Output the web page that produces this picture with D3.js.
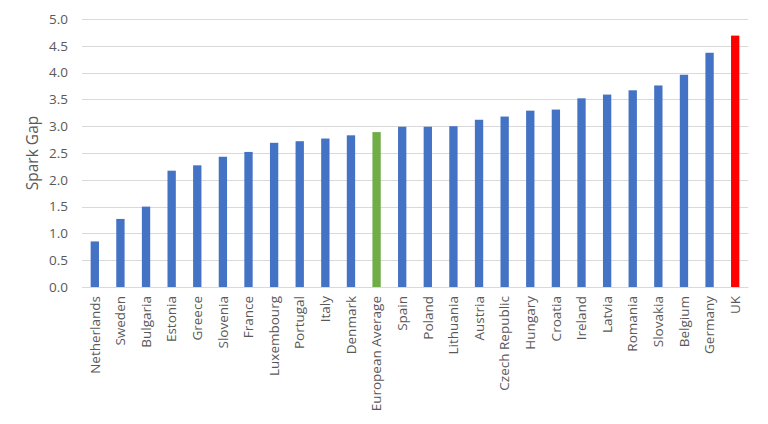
<!DOCTYPE html>
<html>
<head>
<meta charset="utf-8">
<script src="https://cdn.jsdelivr.net/npm/d3@7"></script>
<style>
  body { margin: 0; background: #fff; }
  svg text { font-family: "Open Sans", "Liberation Sans", sans-serif; fill: #595959; }
</style>
</head>
<body>
<svg></svg>
<script>
// Data
const countries = ["Netherlands", "Sweden", "Bulgaria", "Estonia", "Greece", "Slovenia", "France",
  "Luxembourg", "Portugal", "Italy", "Denmark", "European Average", "Spain", "Poland", "Lithuania",
  "Austria", "Czech Republic", "Hungary", "Croatia", "Ireland", "Latvia", "Romania", "Slovakia",
  "Belgium", "Germany", "UK"];
const sparkGap = [0.85, 1.27, 1.50, 2.17, 2.27, 2.43, 2.52, 2.69, 2.72, 2.77, 2.83, 2.89, 2.99,
  2.99, 3.00, 3.12, 3.18, 3.29, 3.31, 3.52, 3.59, 3.67, 3.76, 3.96, 4.37, 4.69];
const yTicks = [0, 0.5, 1, 1.5, 2, 2.5, 3, 3.5, 4, 4.5, 5];

const data = countries.map((c, i) => ({country: c, value: sparkGap[i]}));

const margin = {top: 19, right: 20, bottom: 137, left: 82},
    width = 768 - margin.left - margin.right,
    height = 424 - margin.top - margin.bottom;

const svg = d3.select("svg")
    .attr("width", 768)
    .attr("height", 424)
  .append("g")
    .attr("transform", `translate(${margin.left},${margin.top})`);

const x = d3.scaleBand()
    .domain(countries)
    .range([0, width])
    .paddingInner(0.675)
    .paddingOuter(0.3375);

const y = d3.scaleLinear()
    .domain([0, 5])
    .range([height, 0]);

// Gridlines
svg.append("g")
    .selectAll("line")
    .data(yTicks)
    .join("line")
    .attr("x1", 0)
    .attr("x2", width)
    .attr("y1", d => Math.round(y(d)) + 0.5)
    .attr("y2", d => Math.round(y(d)) + 0.5)
    .attr("stroke", "#d9d9d9")
    .attr("stroke-width", 1);

// Y axis
const yAxis = svg.append("g")
    .call(d3.axisLeft(y).tickValues(yTicks).tickFormat(d3.format(".1f")).tickSize(0).tickPadding(14));
yAxis.select(".domain").remove();
yAxis.selectAll("text").style("font-size", "13.5px");

// Bars
svg.selectAll(".bar")
    .data(data)
    .join("rect")
    .attr("class", "bar")
    .attr("x", d => x(d.country))
    .attr("y", d => y(d.value))
    .attr("width", x.bandwidth())
    .attr("height", d => y(0) - y(d.value))
    .attr("fill", d => d.country === "UK" ? "#ff0000" : d.country === "European Average" ? "#70ad47" : "#4472c4");

// X axis
const xAxis = svg.append("g")
    .attr("transform", `translate(0,${height})`)
    .call(d3.axisBottom(x).tickSize(0).tickPadding(0));
xAxis.select(".domain").attr("stroke", "#d9d9d9");
xAxis.selectAll("text")
    .style("font-size", "13.5px")
    .attr("text-anchor", "end")
    .attr("dy", "0.35em")
    .attr("transform", "translate(0,9) rotate(-90)");

// Y axis title
svg.append("text")
    .attr("transform", `translate(${33 - margin.left},${153 - margin.top}) rotate(-90)`)
    .attr("text-anchor", "middle")
    .attr("dy", "0.35em")
    .style("font-size", "15.5px")
    .text("Spark Gap");
</script>
</body>
</html>
